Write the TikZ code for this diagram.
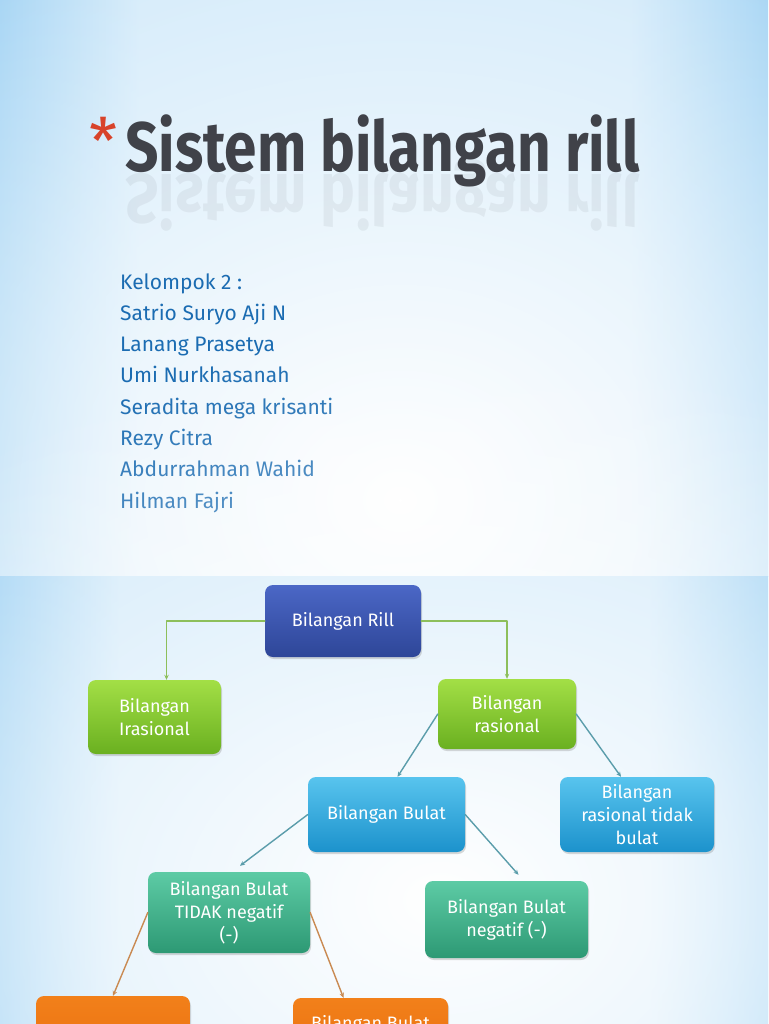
\documentclass[tikz,border=0pt]{standalone}
\usepackage{fontspec}
\setmainfont{Fira Sans}
\usetikzlibrary{arrows.meta,calc,shadows,fadings}
\definecolor{SlideEdge}{HTML}{A4D4F4}
\definecolor{SlideMid}{HTML}{D2EAFA}
\definecolor{TitleInk}{HTML}{404249}
\definecolor{TitleStar}{HTML}{D8432A}
\definecolor{ListInk}{HTML}{1B6CB2}
\definecolor{RillTop}{HTML}{4B67C6}
\definecolor{RillBottom}{HTML}{2E4698}
\definecolor{LeafTop}{HTML}{A3DF46}
\definecolor{LeafBottom}{HTML}{6AB020}
\definecolor{SkyTop}{HTML}{58C4EE}
\definecolor{SkyBottom}{HTML}{1C92CC}
\definecolor{SeaTop}{HTML}{5DCBA5}
\definecolor{SeaBottom}{HTML}{2D9974}
\definecolor{FlameTop}{HTML}{F2801A}
\definecolor{FlameBottom}{HTML}{E86D0E}
\definecolor{LinkGreen}{HTML}{8DBF5B}
\definecolor{LinkTeal}{HTML}{5B9DAB}
\definecolor{LinkBrown}{HTML}{C98A52}
\tikzfading[name=slideglow, inner color=transparent!0, outer color=transparent!100]
\tikzset{
    tree/diagram/.style={
        x=1pt, y=-1pt,
        line cap=round,
        line join=round
    },
    tree/title/.style={
        text=TitleInk, font=\fontsize{70}{80}\selectfont\bfseries,
        xscale=0.835, transform shape, inner sep=0pt, anchor=base west
    },
    tree/member/.style={
        text=ListInk, font=\fontsize{21}{25}\selectfont,
        inner sep=0pt, anchor=base west
    },
    tree/box/.style={
        rounded corners=8pt, text=white, align=center,
        font=\fontsize{18}{23}\selectfont, inner sep=0pt,
        drop shadow={opacity=0.3, shadow xshift=1pt, shadow yshift=-2pt}
    },
    tree/root/.style={tree/box, top color=RillTop, bottom color=RillBottom},
    tree/leaf/.style={tree/box, top color=LeafTop, bottom color=LeafBottom},
    tree/sky/.style={tree/box, top color=SkyTop, bottom color=SkyBottom},
    tree/sea/.style={tree/box, top color=SeaTop, bottom color=SeaBottom},
    tree/flame/.style={tree/box, top color=FlameTop, bottom color=FlameBottom},
    tree/link/.style={line width=1.4pt, -{Stealth[length=5pt, width=4.5pt]}}
}

\begin{document}
\begin{tikzpicture}[tree/diagram]
    \clip (0,0) rectangle (768,1024);
    % first slide
    \fill[SlideMid] (0,0) rectangle (768,576);
    \shade[left color=SlideEdge, right color=SlideMid] (0,0) rectangle (140,576);
    \shade[left color=SlideMid, right color=SlideEdge] (628,0) rectangle (768,576);
    \fill[white, path fading=slideglow] (400,500) ellipse [x radius=760, y radius=640];
    \node[tree/title, yscale=-1, opacity=0.07] (titleshade) at (125,175) {Sistem bilangan rill};
    \node[tree/title] (title) at (125,172) {Sistem bilangan rill};
    \node[text=TitleStar, font=\fontsize{64}{70}\selectfont, inner sep=0pt, anchor=base]
        (star) at (104,165) {*};
    \foreach \who [count=\i from 0] in {Kelompok 2 :, Satrio Suryo Aji N, Lanang Prasetya,
        Umi Nurkhasanah, Seradita mega krisanti, Rezy Citra, Abdurrahman Wahid, Hilman Fajri}
        \node[tree/member] (member\i) at (120,289+31.3*\i) {\who};
    % second slide
    \fill[SlideMid] (0,576) rectangle (768,1024);
    \shade[left color=SlideEdge, right color=SlideMid] (0,576) rectangle (120,1024);
    \shade[left color=SlideMid, right color=SlideEdge] (648,576) rectangle (768,1024);
    \fill[white, path fading=slideglow] (440,900) ellipse [x radius=760, y radius=560];
    \node[tree/root, minimum width=156pt, minimum height=72pt] (rill) at (343,621) {Bilangan Rill};
    \node[tree/leaf, minimum width=133pt, minimum height=74pt] (irasional) at (154.5,717)
        {Bilangan\\Irasional};
    \node[tree/leaf, minimum width=138pt, minimum height=70pt] (rasional) at (507,714)
        {Bilangan\\rasional};
    \node[tree/sky, minimum width=157pt, minimum height=75pt] (bulat) at (386.5,814.5)
        {Bilangan Bulat};
    \node[tree/sky, minimum width=154pt, minimum height=75pt] (pecahan) at (637,814.5)
        {Bilangan\\rasional tidak\\bulat};
    \node[tree/sea, minimum width=162pt, minimum height=81pt] (cacah) at (229,912.5)
        {Bilangan Bulat\\TIDAK negatif\\(-)};
    \node[tree/sea, minimum width=163pt, minimum height=77pt] (negatif) at (506.5,919.5)
        {Bilangan Bulat\\negatif (-)};
    \node[tree/flame, minimum width=154pt, minimum height=82pt] (nol) at (113,1037) {};
    \node[tree/flame, minimum width=155pt, minimum height=82pt] (positif) at (370.5,1039) {};
    \node[text=white, font=\fontsize{18}{23}\selectfont, inner sep=0pt, anchor=base]
        (positiflabel) at (370.5,1029) {Bilangan Bulat};
    % connectors
    \draw[tree/link, LinkGreen] (rill.west) -| ([xshift=12pt]irasional.north);
    \draw[tree/link, LinkGreen] (rill.east) -| (rasional.north);
    \draw[tree/link, LinkTeal] (rasional.west) -- ([xshift=11pt]bulat.north);
    \draw[tree/link, LinkTeal] (rasional.east) -- ([xshift=-16pt]pecahan.north);
    \draw[tree/link, LinkTeal] (bulat.west) -- ([xshift=11pt, yshift=6pt]cacah.north);
    \draw[tree/link, LinkTeal] (bulat.east) -- ([xshift=12pt, yshift=6pt]negatif.north);
    \draw[tree/link, LinkBrown] (cacah.west) -- (nol.north);
    \draw[tree/link, LinkBrown] (cacah.east) -- ([xshift=-27pt]positif.north);
\end{tikzpicture}
\end{document}
